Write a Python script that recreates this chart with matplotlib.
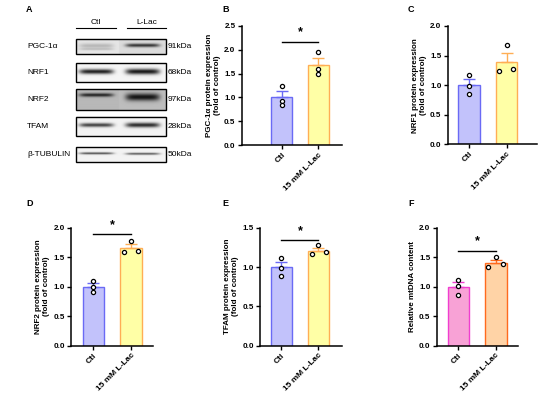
import numpy as np
import matplotlib.pyplot as plt
from matplotlib.patches import Rectangle

plt.rcParams['font.family'] = ['Liberation Sans', 'DejaVu Sans']

# ---- data ----
groups = ['Ctl', '15 mM L-Lac']

pgc_mean = [1.00, 1.68]
pgc_sem = [0.13, 0.14]
pgc_ctl_pts = [1.25, 0.92, 0.83]
pgc_lac_pts = [1.96, 1.60, 1.49]

nrf1_mean = [1.00, 1.39]
nrf1_sem = [0.10, 0.15]
nrf1_ctl_pts = [1.17, 0.98, 0.85]
nrf1_lac_pts = [1.68, 1.24, 1.27]

nrf2_mean = [1.00, 1.65]
nrf2_sem = [0.06, 0.07]
nrf2_ctl_pts = [1.10, 0.99, 0.91]
nrf2_lac_pts = [1.78, 1.59, 1.61]

tfam_mean = [1.00, 1.21]
tfam_sem = [0.06, 0.035]
tfam_ctl_pts = [1.11, 0.99, 0.89]
tfam_lac_pts = [1.28, 1.17, 1.19]

mtdna_mean = [1.00, 1.40]
mtdna_sem = [0.08, 0.05]
mtdna_ctl_pts = [1.12, 1.02, 0.86]
mtdna_lac_pts = [1.50, 1.34, 1.38]

# western blot (panel A): band darkness per lane, background grey per lane
blot_names = ['PGC-1\u03b1', 'NRF1', 'NRF2', 'TFAM', '\u03b2-TUBULIN']
blot_kda = ['91kDa', '68kDa', '97kDa', '28kDa', '50kDa']
blot_ctl_band = [0.22, 0.95, 0.90, 0.80, 0.75]
blot_lac_band = [0.85, 0.98, 1.00, 0.90, 0.70]
blot_ctl_bg = [0.90, 0.96, 0.72, 0.95, 0.95]
blot_lac_bg = [0.86, 0.96, 0.74, 0.95, 0.95]

# ---- figure ----
W, H = 554, 416
fig = plt.figure(figsize=(W / 100, H / 100), dpi=100)

# overlay axes in pixel coordinates for panel A and the panel letters
axA = fig.add_axes([0, 0, 1, 1])
axA.set_xlim(0, W)
axA.set_ylim(H, 0)
axA.axis('off')

row_y = [(39.3, 54.3), (63.3, 81.7), (89.3, 110.0), (116.7, 136.0), (146.7, 161.7)]
# (band centre, thickness) as fraction of box height, per lane
band_shape_ctl = [(0.45, 0.16), (0.45, 0.13), (0.28, 0.09), (0.45, 0.10), (0.42, 0.07)]
band_shape_lac = [(0.42, 0.12), (0.45, 0.15), (0.38, 0.18), (0.45, 0.12), (0.45, 0.07)]
bx0, bx1 = 76, 165.7
xs = np.linspace(0, 1, 180)
for i, (y0, y1) in enumerate(row_y):
    ys = np.linspace(0, 1, 40)
    bg = np.where(xs < 0.48, blot_ctl_bg[i], blot_lac_bg[i])
    img = np.tile(bg, (len(ys), 1))
    for cx, inten, (yc, t), bgl in [(0.226, blot_ctl_band[i], band_shape_ctl[i], blot_ctl_bg[i]),
                                    (0.742, blot_lac_band[i], band_shape_lac[i], blot_lac_bg[i])]:
        prof = np.exp(-((ys - yc) / t) ** 2)[:, None] * np.exp(-((xs - cx) / 0.19) ** 6)[None, :]
        img = img - inten * (bgl - 0.08) * prof
    if i == 0:
        # faint second line in the control lane
        prof = np.exp(-((ys - 0.68) / 0.07) ** 2)[:, None] * np.exp(-((xs - 0.226) / 0.19) ** 6)[None, :]
        img = img - 0.15 * prof
    img = np.clip(img, 0, 1)
    axA.imshow(img, cmap='gray', vmin=0, vmax=1, extent=(bx0, bx1, y1, y0),
               aspect='auto', interpolation='bilinear')
    axA.add_patch(Rectangle((bx0, y0), bx1 - bx0, y1 - y0, fill=False, ec='black', lw=1.0))
    yc = (y0 + y1) / 2
    axA.text(27, yc, blot_names[i], fontsize=6, va='center', ha='left')
    axA.text(168, yc, blot_kda[i], fontsize=6, va='center', ha='left')

axA.plot([76, 116], [28, 28], color='black', lw=0.8)
axA.plot([127, 166], [28, 28], color='black', lw=0.8)
axA.text(96, 26.5, 'Ctl', fontsize=6, ha='center', va='bottom')
axA.text(146.5, 26.5, 'L-Lac', fontsize=6, ha='center', va='bottom')

for letter, (lx, ly) in zip('ABCDEF', [(26, 9), (222, 9), (408, 9), (26, 203), (222, 203), (408, 203)]):
    axA.text(lx, ly, letter, fontsize=6.5, fontweight='bold', ha='left', va='center')

# ---- bar panels ----
blue = ('#c2c2fb', '#6a6af5')
yellow = ('#ffffa6', '#ffae55')
pink = ('#f8a2d6', '#f03ed0')
peach = ('#ffd3a6', '#ff6a1e')


def px_rect(left, right, top, bottom):
    return [left / W, 1 - bottom / H, (right - left) / W, (bottom - top) / H]


panels = [
    dict(rect=px_rect(241.7, 341.7, 26, 145), xlim=(-1.10, 1.64), ymax=2.5,
         label='PGC-1\u03b1 protein expression\n(fold of control)',
         mean=pgc_mean, sem=pgc_sem, pts=[pgc_ctl_pts, pgc_lac_pts],
         jit=[0, 0, 0], colors=[blue, yellow], sig=(2.17, 2.37)),
    dict(rect=px_rect(447.7, 536.7, 26, 144.3), xlim=(-0.58, 1.81), ymax=2.0,
         label='NRF1 protein expression\n(fold of control)',
         mean=nrf1_mean, sem=nrf1_sem, pts=[nrf1_ctl_pts, nrf1_lac_pts],
         jit=[0, -0.2, 0.18], colors=[blue, yellow], sig=None),
    dict(rect=px_rect(71, 153.3, 227.7, 345.7), xlim=(-0.60, 1.60), ymax=2.0,
         label='NRF2 protein expression\n(fold of control)',
         mean=nrf2_mean, sem=nrf2_sem, pts=[nrf2_ctl_pts, nrf2_lac_pts],
         jit=[0, -0.18, 0.2], colors=[blue, yellow], sig=(1.89, 2.04)),
    dict(rect=px_rect(260, 341.7, 227.7, 345.7), xlim=(-0.58, 1.63), ymax=1.5,
         label='TFAM protein expression\n(fold of control)',
         mean=tfam_mean, sem=tfam_sem, pts=[tfam_ctl_pts, tfam_lac_pts],
         jit=[0, -0.18, 0.2], colors=[blue, yellow], sig=(1.35, 1.46)),
    dict(rect=px_rect(436.7, 518.3, 227.7, 345.7), xlim=(-0.58, 1.60), ymax=2.0,
         label='Relative mtDNA content',
         mean=mtdna_mean, sem=mtdna_sem, pts=[mtdna_ctl_pts, mtdna_lac_pts],
         jit=[0, -0.2, 0.18], colors=[pink, peach], sig=(1.61, 1.77)),
]

for p in panels:
    ax = fig.add_axes(p['rect'])
    x = np.arange(len(groups))
    for i in range(len(groups)):
        face, edge = p['colors'][i]
        ax.bar(x[i], p['mean'][i], width=0.58, color=face, edgecolor=edge, linewidth=1.0, zorder=2)
        ax.errorbar(x[i], p['mean'][i], yerr=[[0], [p['sem'][i]]], fmt='none', ecolor=edge,
                    elinewidth=1.0, capsize=4, capthick=1.0, zorder=3)
        jit = [0, 0, 0] if i == 0 else p['jit']
        ax.plot(x[i] + np.array(jit), p['pts'][i], 'o', ms=3.0, mfc='white', mec='black',
                mew=0.9, zorder=4, clip_on=False)
    if p['sig'] is not None:
        ly, sy = p['sig']
        ax.plot([0, 1], [ly, ly], color='black', lw=1.0, clip_on=False)
        ax.text(0.5, sy, '*', fontsize=9, fontweight='bold', ha='center', va='center')
    ax.set_xlim(*p['xlim'])
    ax.set_ylim(0, p['ymax'])
    ax.set_yticks(np.arange(0, p['ymax'] + 0.01, 0.5))
    ax.set_yticklabels([f'{v:.1f}' for v in np.arange(0, p['ymax'] + 0.01, 0.5)],
                       fontsize=5.8, fontweight='bold')
    ax.set_xticks(x)
    ax.set_xticklabels(groups, rotation=45, ha='right', rotation_mode='anchor',
                       fontsize=6, fontweight='bold')
    ax.set_ylabel(p['label'], fontsize=5.8, fontweight='bold', labelpad=2)
    ax.spines['top'].set_visible(False)
    ax.spines['right'].set_visible(False)
    for s in ('left', 'bottom'):
        ax.spines[s].set_linewidth(1.1)
    ax.tick_params(axis='both', length=3, width=1.0, pad=1.5)
    ax.patch.set_alpha(0)

fig.savefig('out.png', dpi=100)
